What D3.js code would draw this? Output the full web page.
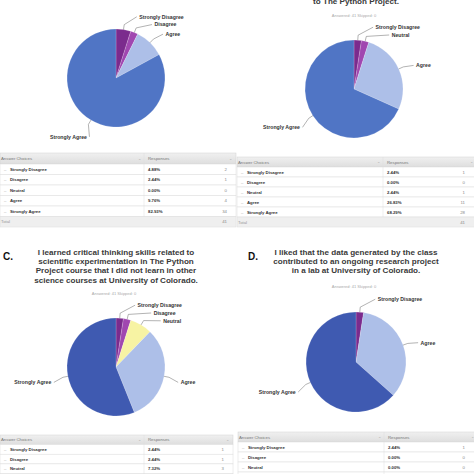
<!DOCTYPE html>
<html>
<head>
<meta charset="utf-8">
<script src="https://cdn.jsdelivr.net/npm/d3@7"></script>
<style>
  html, body { margin: 0; padding: 0; background: #fff; }
  svg { display: block; font-family: "Liberation Sans", Arial, sans-serif; }
</style>
</head>
<body>
<svg id="fig" width="474" height="474"></svg>
<script>
// survey pies, four panels, each with its SurveyMonkey-style response table
const CHOICES = ["Strongly Disagree", "Disagree", "Neutral", "Agree", "Strongly Agree"];
const COUNTS_A = [2, 1, 0, 4, 34];
const COUNTS_B = [1, 0, 1, 11, 28];
const COUNTS_C = [1, 1, 3, 13, 23];
const COUNTS_D = [1, 0, 0, 14, 26];
const ANSWERED = [41, 41, 41, 41];
const SKIPPED = [0, 0, 0, 0];
const LETTERS = ["", "", "C.", "D."];
const TITLE_A = [];
const TITLE_B = ["to The Python Project."];
const TITLE_C = ["I learned critical thinking skills related to",
                 "scientific experimentation in The Python",
                 "Project course that I did not learn in other",
                 "science courses at University of Colorado."];
const TITLE_D = ["I liked that the data generated by the class",
                 "contributed to an ongoing research project",
                 "in a lab at University of Colorado."];

const PURPLE = "#7b2b8d", LILAC = "#a047b0", YELLOW = "#f7f3a3", PALE = "#adbfe8";
const BLUE1 = "#5075c5", BLUE2 = "#3f5ab1";

// layout per panel (positions only); panel A's header sits above the crop
const PANELS = [
  {counts: COUNTS_A, title: TITLE_A, cx: 116, cy: 78, r: 49, titleY: 0, ansY: null,
   colors: [PURPLE, LILAC, YELLOW, PALE, BLUE1],
   tab: {x: 0, y: 153, w: 236, split: 144, head: 11, row: 10.5}},
  {counts: COUNTS_B, title: TITLE_B, cx: 354, cy: 89, r: 49, titleY: 3.5, ansY: 15,
   colors: [PURPLE, LILAC, LILAC, PALE, BLUE1],
   tab: {x: 237, y: 157, w: 240, split: 383, head: 10, row: 10}},
  {counts: COUNTS_C, title: TITLE_C, cx: 116, cy: 367, r: 49, titleY: 254.5, ansY: 293,
   colors: [PURPLE, LILAC, YELLOW, PALE, BLUE2],
   tab: {x: 0, y: 435, w: 233, split: 144, head: 9.5, row: 9.7}},
  {counts: COUNTS_D, title: TITLE_D, cx: 356, cy: 362, r: 50, titleY: 254.5, ansY: 286,
   colors: [PURPLE, LILAC, YELLOW, PALE, BLUE2],
   tab: {x: 238, y: 432, w: 240, split: 384, head: 10, row: 10}}
];
const TITLE_CX = [116, 356, 116, 356];

const svg = d3.select("#fig");
const defs = svg.append("defs");
const grad = defs.append("linearGradient").attr("id", "hdr").attr("x1", 0).attr("x2", 0).attr("y1", 0).attr("y2", 1);
grad.append("stop").attr("offset", "0%").attr("stop-color", "#f0f0f0");
grad.append("stop").attr("offset", "100%").attr("stop-color", "#dedede");

const pie = d3.pie().sort(null).value((d) => d.n);
const fmtPct = (v) => (v * 100).toFixed(2) + "%";

PANELS.forEach((p, i) => {
  const g = svg.append("g");
  const data = CHOICES.map((c, k) => ({choice: c, n: p.counts[k], color: p.colors[k]}));
  const total = d3.sum(data, (d) => d.n);

  // letter + title + answered line
  if (LETTERS[i]) g.append("text").attr("x", i === 2 ? 3 : 248).attr("y", 260)
    .attr("font-size", 10).attr("font-weight", "bold").attr("fill", "#111").text(LETTERS[i]);
  p.title.forEach((line, k) => g.append("text")
    .attr("x", TITLE_CX[i]).attr("y", p.titleY + k * 9.4).attr("text-anchor", "middle")
    .attr("font-size", 8.1).attr("font-weight", "bold").attr("fill", "#3a3a3a").text(line));
  if (p.ansY != null) g.append("text").attr("x", TITLE_CX[i] - 2).attr("y", p.ansY + 1.5)
    .attr("text-anchor", "middle").attr("font-size", 4).attr("fill", "#aaa")
    .text(`Answered: ${ANSWERED[i]}    Skipped: ${SKIPPED[i]}`);

  // pie
  const arcs = pie(data);
  const arc = d3.arc().innerRadius(0).outerRadius(p.r);
  const pg = g.append("g").attr("transform", `translate(${p.cx},${p.cy})`);
  pg.selectAll("path").data(arcs.filter((a) => a.data.n > 0)).join("path")
    .attr("d", arc).attr("fill", (a) => a.data.color)
    .attr("stroke", "#fff").attr("stroke-width", 0.3).attr("stroke-opacity", 0.6);

  // labels, placed on an outer circle and pushed apart vertically
  const R = p.r + 16;
  const labs = arcs.filter((a) => a.data.n > 0).map((a) => {
    const m = (a.startAngle + a.endAngle) / 2;
    return {a, m, right: Math.sin(m) >= 0, y: p.cy - R * Math.cos(m) + 3};
  });
  [true, false].forEach((side) => {
    const s = labs.filter((l) => l.right === side).sort((u, v) => u.y - v.y);
    for (let k = 1; k < s.length; k++) if (s[k].y < s[k - 1].y + 7.8) s[k].y = s[k - 1].y + 7.8;
  });
  labs.forEach((l) => {
    const dy = l.y - p.cy;
    const dx = Math.sqrt(Math.max(0, R * R - dy * dy)) * (l.right ? 1 : -1);
    const lx = p.cx + dx, sgn = l.right ? 1 : -1;
    const ex = p.cx + p.r * Math.sin(l.m), ey = p.cy - p.r * Math.cos(l.m);
    const bx = p.cx + (p.r + 5) * Math.sin(l.m), by = p.cy - (p.r + 5) * Math.cos(l.m);
    g.append("path").attr("d", `M${lx - sgn},${l.y}L${bx},${by}L${ex},${ey}`)
      .attr("fill", "none").attr("stroke", "#666").attr("stroke-width", 0.5);
    g.append("text").attr("x", lx + sgn * 1.5).attr("y", l.y).attr("dy", "0.35em")
      .attr("text-anchor", l.right ? "start" : "end")
      .attr("font-size", 5.2).attr("font-weight", "bold").attr("fill", "#333")
      .text(l.a.data.choice);
  });

  // response table
  const t = p.tab;
  const tg = g.append("g");
  tg.append("rect").attr("x", t.x).attr("y", t.y).attr("width", t.w).attr("height", t.head)
    .attr("fill", "url(#hdr)").attr("stroke", "#d2d2d2").attr("stroke-width", 0.5);
  const txtY = t.y + t.head / 2;
  tg.append("text").attr("x", t.x + 1).attr("y", txtY).attr("dy", "0.35em")
    .attr("font-size", 4.3).attr("fill", "#777").text("Answer Choices");
  tg.append("text").attr("x", t.split + 4).attr("y", txtY).attr("dy", "0.35em")
    .attr("font-size", 4.3).attr("fill", "#777").text("Responses");
  [t.split - 5, t.x + t.w - 6].forEach((ax) => tg.append("text").attr("x", ax).attr("y", txtY)
    .attr("dy", "0.35em").attr("font-size", 4).attr("fill", "#aaa").attr("text-anchor", "middle").text("⌄"));

  const y = d3.scaleBand().domain(d3.range(data.length + 1))
    .range([t.y + t.head, t.y + t.head + t.row * (data.length + 1)]);
  tg.selectAll("rect.row").data(d3.range(data.length + 1)).join("rect").attr("class", "row")
    .attr("x", t.x).attr("y", (k) => y(k)).attr("width", t.w).attr("height", y.bandwidth())
    .attr("fill", (k) => k === data.length ? "#efefef" : "#fff")
    .attr("stroke", "#dcdcdc").attr("stroke-width", 0.5);
  tg.append("line").attr("x1", t.split).attr("x2", t.split).attr("y1", t.y)
    .attr("y2", y(data.length)).attr("stroke", "#dcdcdc").attr("stroke-width", 0.5);
  const rows = tg.selectAll("g.r").data(data).join("g").attr("class", "r")
    .attr("transform", (d, k) => `translate(0,${y(k) + y.bandwidth() / 2})`);
  rows.append("text").attr("x", t.x + 4).attr("dy", "0.35em").attr("font-size", 4.3)
    .attr("fill", "#999").text("–");
  rows.append("text").attr("x", t.x + 10).attr("dy", "0.35em").attr("font-size", 4.3)
    .attr("font-weight", "bold").attr("fill", "#333").text((d) => d.choice);
  rows.append("text").attr("x", t.split + 4).attr("dy", "0.35em").attr("font-size", 4.3)
    .attr("font-weight", "bold").attr("fill", "#333").text((d) => fmtPct(d.n / total));
  rows.append("text").attr("x", Math.min(t.x + t.w - 9, 465)).attr("dy", "0.35em")
    .attr("text-anchor", "end").attr("font-size", 4.3).attr("fill", "#888").text((d) => d.n);
  const ty = y(data.length) + y.bandwidth() / 2;
  tg.append("text").attr("x", t.x + 1).attr("y", ty).attr("dy", "0.35em").attr("font-size", 4.3)
    .attr("fill", "#999").text("Total");
  tg.append("text").attr("x", Math.min(t.x + t.w - 9, 465)).attr("y", ty).attr("dy", "0.35em")
    .attr("text-anchor", "end").attr("font-size", 4.3).attr("fill", "#888").text(total);
});
</script>
</body>
</html>
